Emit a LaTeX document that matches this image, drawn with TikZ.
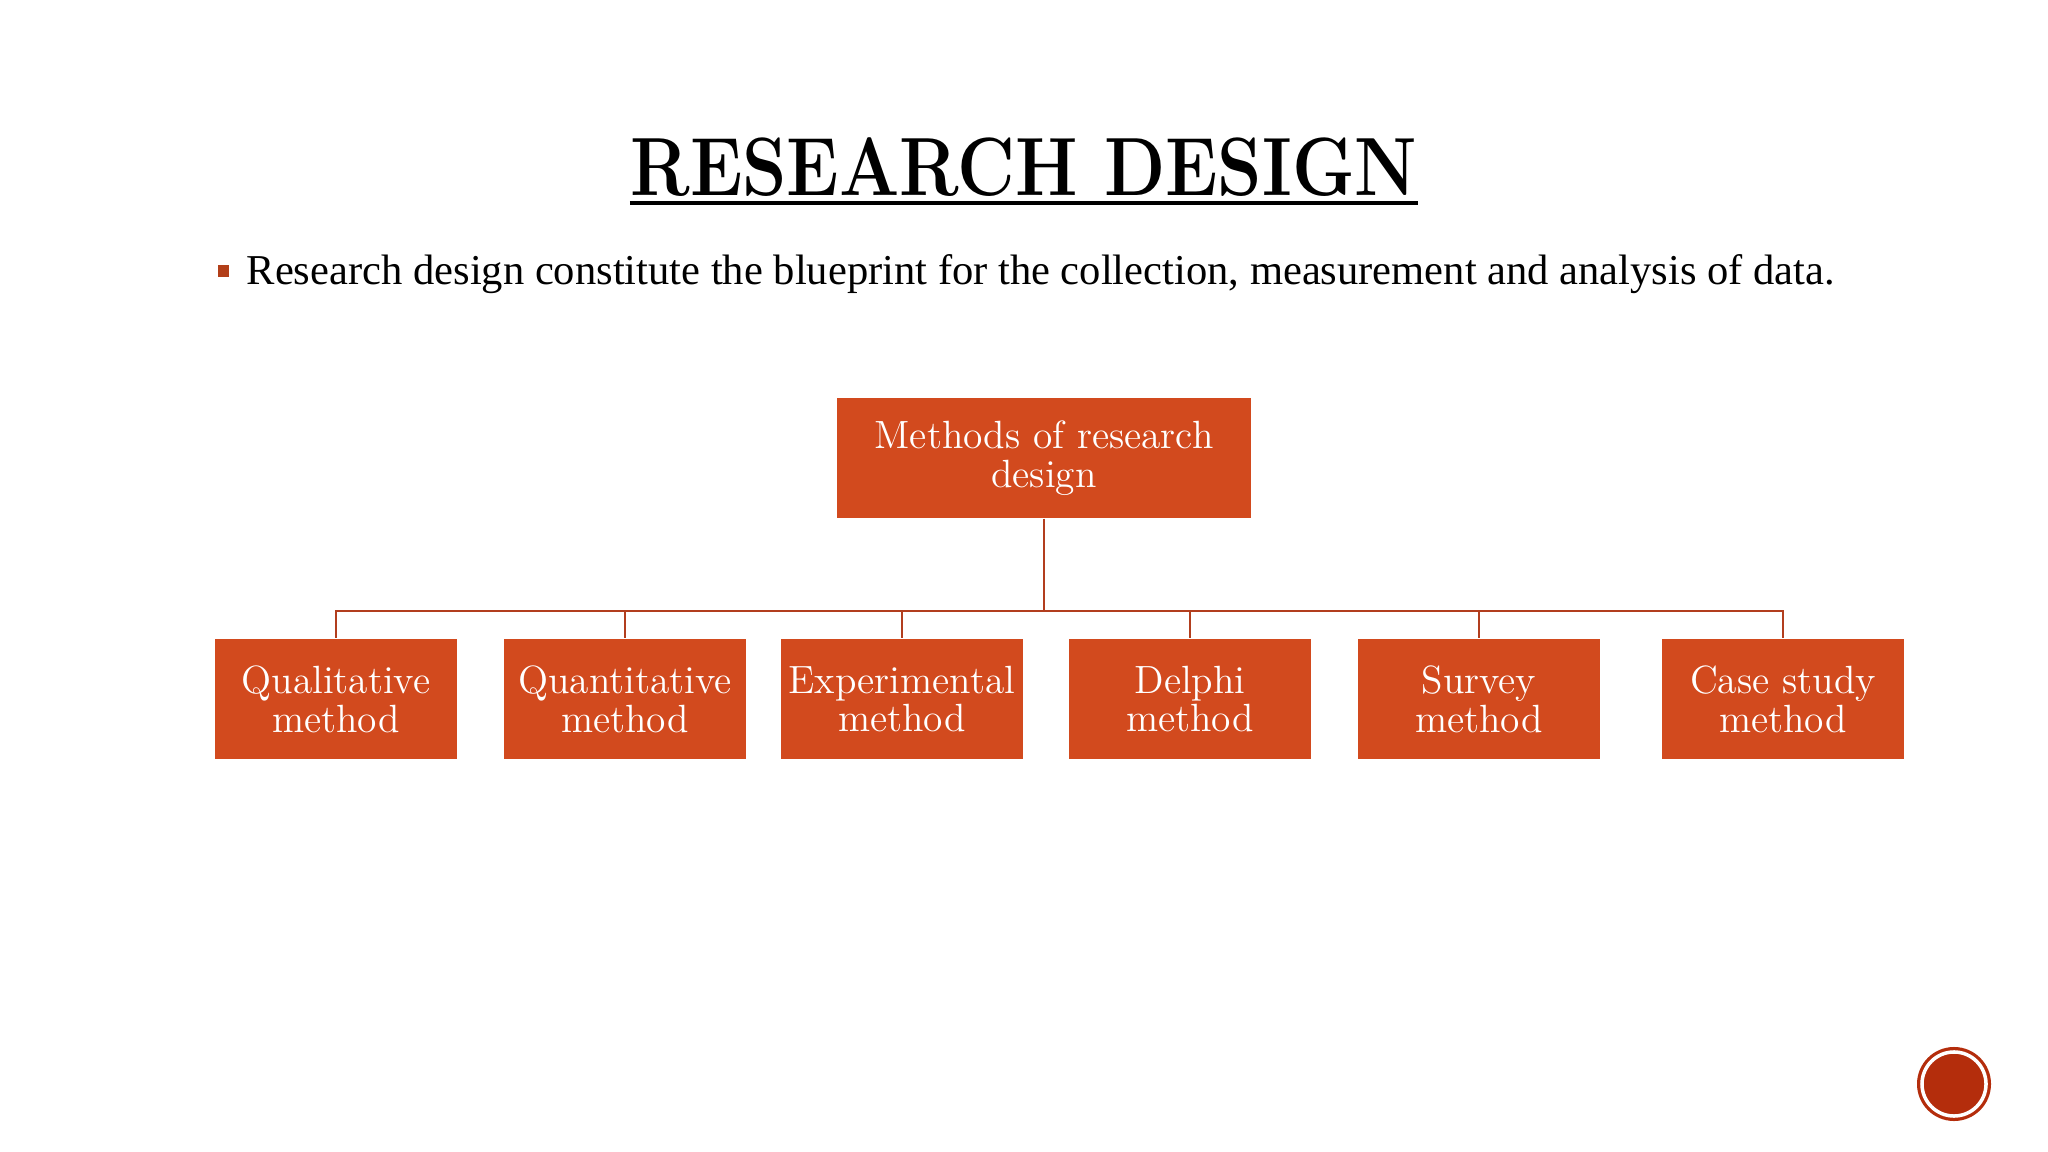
\documentclass[tikz,border=0pt]{standalone}
\usepackage{fontspec}
\newfontfamily\bodyfont{Liberation Serif}
\definecolor{boxred}{RGB}{210,74,30}
\definecolor{linered}{RGB}{178,62,30}
\definecolor{dotred}{RGB}{180,45,12}
\tikzset{
  method/.style={rectangle, fill=boxred, text=white, minimum width=2.42cm, minimum height=1.2cm,
    inner sep=0pt, align=center, font=\fontsize{11.2}{11}\selectfont},
  link/.style={linered, line width=0.6pt}
}
\begin{document}
\begin{tikzpicture}[x=0.01cm, y=-0.01cm]
    \useasboundingbox (0,0) rectangle (2048,1152);
    % title and bullet line
    \node[anchor=base, inner sep=0pt, font=\fontsize{23.5}{24}\selectfont\bfseries] (title) at (1024,196)
      {\scalebox{0.86}[1]{RESEARCH DESIGN}};
    \draw[line width=1.2pt] ([yshift=-0.07cm]title.base west) -- ([yshift=-0.07cm]title.base east);
    \fill[boxred!85!black] (218,265) rectangle (229,277);
    \node[anchor=base west, inner sep=0pt, font=\bodyfont\fontsize{12.1}{14}\selectfont] (intro) at (246,285)
      {Research design constitute the blueprint for the collection, measurement and analysis of data.};
    % tree
    \node[method, minimum width=4.14cm] (top) at (1044,458) {Methods of research\\design};
    \node[method] (m1) at (336,699) {Qualitative\\method};
    \node[method] (m2) at (625,699) {Quantitative\\method};
    \node[method] (m3) at (902,699) {Experimental\\method};
    \node[method] (m4) at (1190,699) {Delphi\\method};
    \node[method] (m5) at (1479,699) {Survey\\method};
    \node[method] (m6) at (1783,699) {Case study\\method};
    \coordinate (bar) at (1044,611);
    \draw[link] (top.south) -- (bar);
    \foreach \m in {m1,m2,m3,m4,m5,m6}
      \draw[link] (bar) -| (\m.north);
    % page dot
    \fill[dotred] (1954,1084) circle (0.37cm);
    \draw[white, line width=1pt] (1954,1084) circle (0.32cm);
\end{tikzpicture}
\end{document}
